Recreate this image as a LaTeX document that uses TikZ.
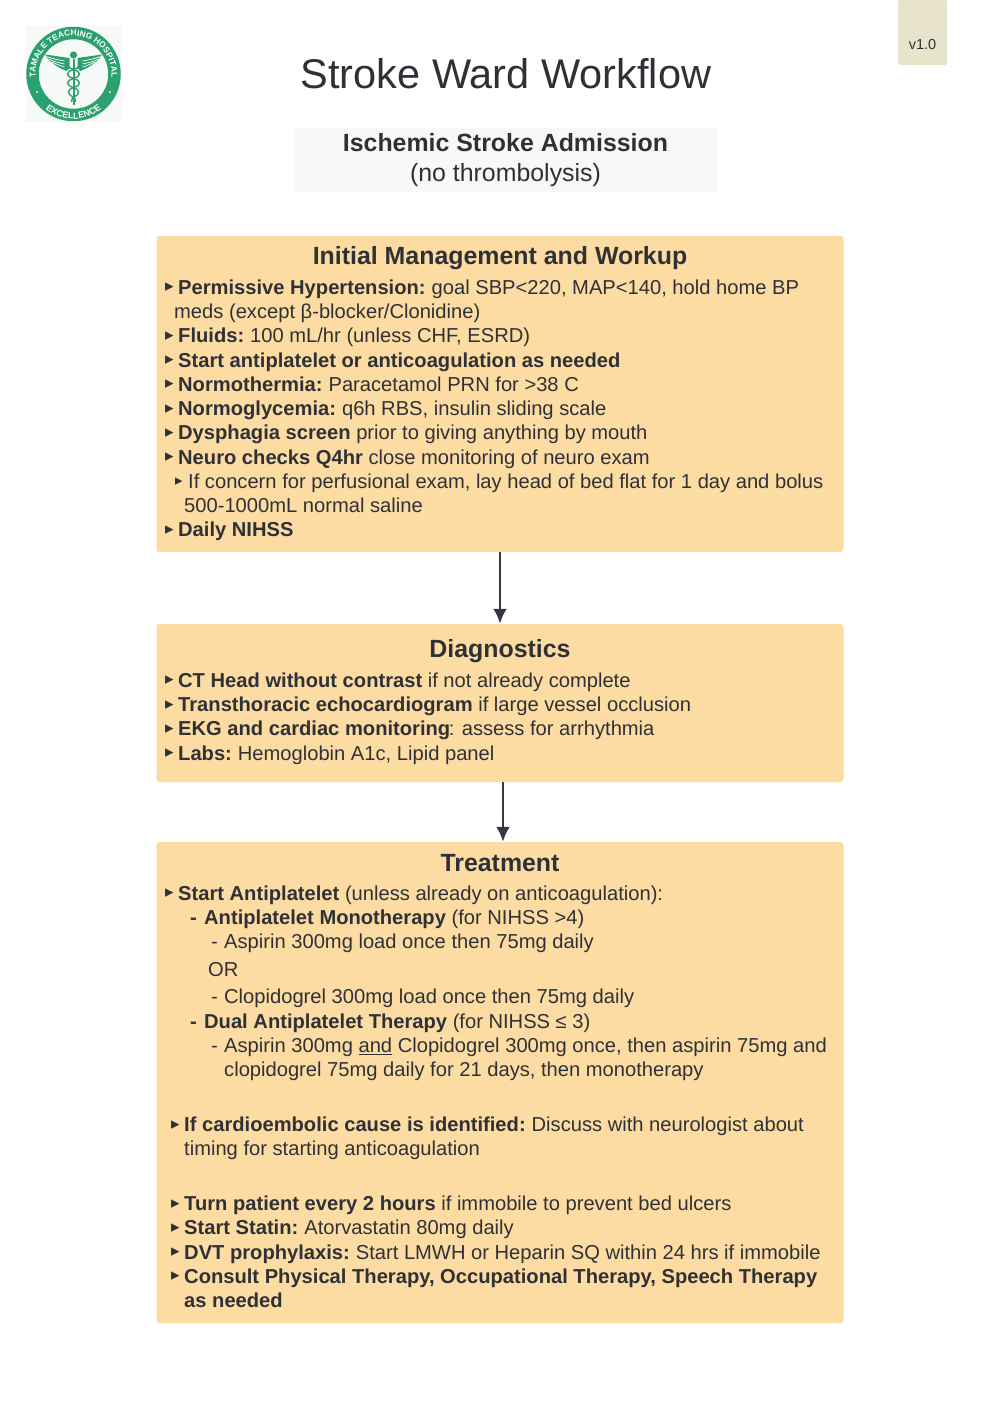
\documentclass[tikz,border=0pt]{standalone}
\usepackage{fontspec}
\setmainfont{Liberation Sans}
\newfontfamily\bulletfont{DejaVu Sans}
\usepackage{xcolor}
\usetikzlibrary{arrows.meta,
positioning,
calc,
decorations.text}

\definecolor{panelfill}{HTML}{FCDCA3}
\definecolor{inkdark}{HTML}{2F3136}
\definecolor{arrowdark}{HTML}{333844}
\definecolor{tagfill}{HTML}{E8E4CC}
\definecolor{subfill}{HTML}{F7F8F8}
\definecolor{logogreen}{HTML}{2BA170}

\newcommand{\bul}{\makebox[13pt][l]{\raisebox{2.5pt}{\bulletfont\fontsize{17}{17}\selectfont ▸}}}
\newcommand{\subbul}{\makebox[13pt][l]{\raisebox{2.5pt}{\bulletfont\fontsize{15}{15}\selectfont ▸}}}
\newcommand{\lab}[1]{\textbf{#1}\kern-1.5pt\relax}

\begin{document}
\begin{tikzpicture}[
    x=1pt,
    y=-1pt,
    panel/.style={
        fill=panelfill,
        rounded corners=3pt,
        minimum width=687pt,
        inner sep=0pt
    },
    paneltitle/.style={
        font=\fontsize{24.9}{28}\selectfont\bfseries,
        text=inkdark,
        inner sep=0pt
    },
    paneltext/.style={
        font=\fontsize{20.15}{24.25}\selectfont,
        text=inkdark,
        align=left,
        anchor=north west,
        inner sep=0pt
    },
    flow/.style={
        -{Latex[length=15pt,width=14pt]},
        draw=arrowdark,
        line width=2.9pt
    }
]
\useasboundingbox (0,0) rectangle (1000,1414);

%-------------------------------------------------
% Heading
%-------------------------------------------------

\node[font=\fontsize{41.5}{46}\selectfont,text=inkdark,inner sep=0pt] (heading) at (506,73.5) {Stroke Ward Workflow};

\node[fill=subfill,minimum width=423pt,minimum height=64pt,inner sep=0pt,
      align=center,text=inkdark,font=\fontsize{24.9}{30.5}\selectfont] (admission) at (505.5,160)
{\textbf{Ischemic Stroke Admission}\\(no thrombolysis)};

\node[fill=tagfill,rounded corners=2pt,minimum width=49pt,minimum height=65pt,inner sep=0pt] (tag) at (922.5,32.5) {};
\node[font=\fontsize{14.5}{16}\selectfont,text=inkdark,inner sep=0pt] (version) at (922.5,45) {v1.0};

%-------------------------------------------------
% Logo
%-------------------------------------------------

\node[fill=subfill,minimum size=96pt,inner sep=0pt] (logoback) at (74,74) {};
\begin{scope}[shift={(73.5,74)},y=1pt]
\draw[logogreen,line width=12.5pt] (0,0) circle (41);
\path[decorate,decoration={text along path,text color=white,text align=center,
    text={|\fontsize{8.4}{9}\selectfont\bfseries|TAMALE TEACHING HOSPITAL}}]
    (-36.7,-9.8) arc[start angle=195,end angle=-15,radius=38];
\path[decorate,decoration={text along path,text color=white,text align=center,
    text={|\fontsize{9}{10}\selectfont\bfseries|EXCELLENCE}}]
    (-33.4,-30.1) arc[start angle=222,end angle=318,radius=45];
\fill[white] (-36.5,-18) circle (1) (36.5,-18) circle (1);
% wings
\foreach \side in {1,-1}{
\begin{scope}[xscale=\side]
\fill[logogreen] (4,16) -- (28.5,19.5)
    .. controls (25,13) and (17,7) .. (7,3) -- (4,6) -- cycle;
\draw[white,line width=.7pt] (9,13) .. controls (15,14) and (20,15) .. (27,17.5);
\draw[white,line width=.7pt] (9,10) .. controls (14,11) and (19,12) .. (25,15);
\draw[white,line width=.7pt] (9,7) .. controls (13,8) and (17,10) .. (22,12);
\end{scope}
}
% staff and snakes
\fill[logogreen] (0,19) circle (3.6);
\draw[logogreen,line width=2pt] (0,15) -- (0,-31);
\draw[logogreen,line width=1.4pt] (-6,9) .. controls (-6,4) and (6,5) .. (6,0)
    .. controls (6,-5) and (-6,-4) .. (-6,-9)
    .. controls (-6,-14) and (5,-13) .. (5,-18)
    .. controls (5,-23) and (-3,-22) .. (-2,-28);
\draw[logogreen,line width=1.4pt] (6,9) .. controls (6,4) and (-6,5) .. (-6,0)
    .. controls (-6,-5) and (6,-4) .. (6,-9)
    .. controls (6,-14) and (-5,-13) .. (-5,-18)
    .. controls (-5,-23) and (3,-22) .. (2,-28);
\end{scope}

%-------------------------------------------------
% Initial management
%-------------------------------------------------

\node[panel,minimum height=316pt] (initial) at (500,394) {};
\node[paneltitle] (initialtitle) at (500,258.5) {Initial Management and Workup};
\node[paneltext] (initialtext) at (165,279.5)
{\bul\lab{Permissive Hypertension:} goal SBP<220, MAP<140, hold home BP\\
\hspace*{9pt}meds (except β-blocker/Clonidine)\\
\bul\lab{Fluids:} 100 mL/hr (unless CHF, ESRD)\\
\bul\textbf{Start antiplatelet or anticoagulation as needed}\\
\bul\lab{Normothermia:} Paracetamol PRN for >38 C\\
\bul\lab{Normoglycemia:} q6h RBS, insulin sliding scale\\
\bul\textbf{Dysphagia screen} prior to giving anything by mouth\\
\bul\textbf{Neuro checks Q4hr} close monitoring of neuro exam\\
\hspace*{10pt}\subbul If concern for perfusional exam, lay head of bed flat for 1 day and bolus\\
\hspace*{19pt}500-1000mL normal saline\\
\bul\textbf{Daily NIHSS}};

%-------------------------------------------------
% Diagnostics
%-------------------------------------------------

\node[panel,minimum height=158pt] (diagnostics) at (500,703) {};
\node[paneltitle] (diagnosticstitle) at (500,651.5) {Diagnostics};
\node[paneltext] (diagnosticstext) at (165,672.5)
{\bul\textbf{CT Head without contrast} if not already complete\\
\bul\textbf{Transthoracic echocardiogram} if large vessel occlusion\\
\bul\lab{EKG and cardiac monitoring}: assess for arrhythmia\\
\bul\lab{Labs:} Hemoglobin A1c, Lipid panel};

%-------------------------------------------------
% Treatment
%-------------------------------------------------

\node[panel,minimum height=481pt] (treatment) at (500,1082.5) {};
\node[paneltitle] (treatmenttitle) at (500,863) {Treatment};
\node[paneltext] (treatmenttext) at (165,885.5)
{\bul\textbf{Start Antiplatelet} (unless already on anticoagulation):\\
\hspace*{25pt}\makebox[14pt][l]{\textbf{-}}\textbf{Antiplatelet Monotherapy} (for NIHSS >4)\\
\hspace*{46pt}\makebox[13pt][l]{-}Aspirin 300mg load once then 75mg daily\\[3.5pt]
\hspace*{43pt}OR\\[3pt]
\hspace*{46pt}\makebox[13pt][l]{-}Clopidogrel 300mg load once then 75mg daily\\
\hspace*{25pt}\makebox[14pt][l]{\textbf{-}}\textbf{Dual Antiplatelet Therapy} (for NIHSS ≤ 3)\\
\hspace*{46pt}\makebox[13pt][l]{-}Aspirin 300mg \underline{and} Clopidogrel 300mg once, then aspirin 75mg and\\
\hspace*{59pt}clopidogrel 75mg daily for 21 days, then monotherapy\\[30.7pt]
\hspace*{6pt}\bul\lab{If cardioembolic cause is identified:} Discuss with neurologist about\\
\hspace*{19pt}timing for starting anticoagulation\\[30.7pt]
\hspace*{6pt}\bul\textbf{Turn patient every 2 hours} if immobile to prevent bed ulcers\\
\hspace*{6pt}\bul\lab{Start Statin:} Atorvastatin 80mg daily\\
\hspace*{6pt}\bul\lab{DVT prophylaxis:} Start LMWH or Heparin SQ within 24 hrs if immobile\\
\hspace*{6pt}\bul\textbf{Consult Physical Therapy, Occupational Therapy, Speech Therapy}\\
\hspace*{19pt}\textbf{as needed}};

%-------------------------------------------------
% Arrows
%-------------------------------------------------

\draw[flow] (initial) -- (diagnostics);
\draw[flow] ([xshift=3pt]diagnostics.south) -- ([xshift=3pt]treatment.north);

\end{tikzpicture}
\end{document}
